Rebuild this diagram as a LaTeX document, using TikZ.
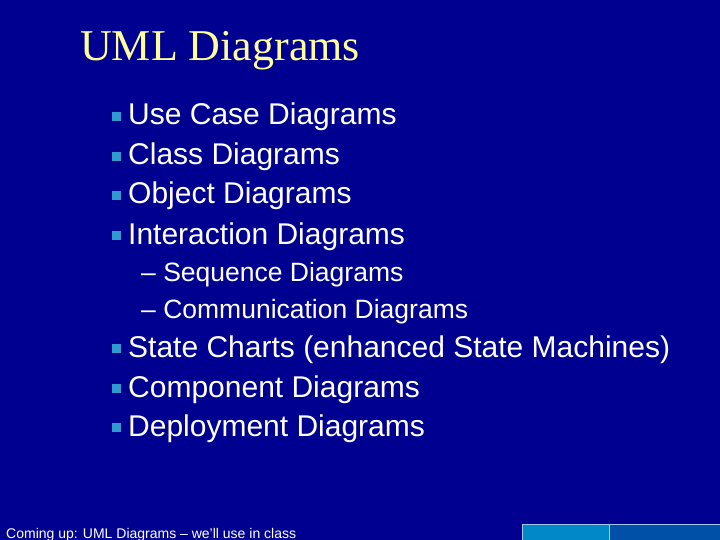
\documentclass[tikz,border=0pt]{standalone}
\usepackage{fontspec}
\setmainfont{Liberation Serif}
\setsansfont{Liberation Sans}
\begin{document}
\begin{tikzpicture}[x=1pt,y=-1pt,
 item/.style={anchor=base west,inner sep=0,text=white,font=\sffamily\fontsize{30}{30}\selectfont},
 sub/.style={anchor=base west,inner sep=0,text=white,font=\sffamily\fontsize{26.5}{26.5}\selectfont},
 bul/.style={fill=bulc,minimum size=9.5pt,inner sep=0}]
\definecolor{bg}{HTML}{000090}
\definecolor{bulc}{HTML}{2E9AD0}
\definecolor{ttl}{HTML}{FFFF99}
\definecolor{boxa}{HTML}{0088C8}
\definecolor{boxb}{HTML}{0050A8}
\definecolor{boxl}{HTML}{A0C8F0}
\fill[bg] (0,0) rectangle (720,540);
\useasboundingbox (0,0) rectangle (720,540);
\node[anchor=base west,inner sep=0,text=ttl,font=\fontsize{44}{44}\selectfont] (t) at (80,61) {UML Diagrams};
\foreach \n/\y/\s in {a/125/Use Case Diagrams,b/165/Class Diagrams,c/204/Object Diagrams,d/244/Interaction Diagrams,e/357/State Charts (enhanced State Machines),f/397/Component Diagrams,g/436/Deployment Diagrams}{
 \node[item] (\n) at (128,\y) {\s};
 \node[bul] (b\n) at (116.5,\y-8.5) {};
}
\node[sub] (s1) at (141,281) {– Sequence Diagrams};
\node[sub] (s2) at (141,318) {– Communication Diagrams};
\node[anchor=base west,inner sep=0,text=white,font=\sffamily\fontsize{14}{14}\selectfont] (f) at (6,538) {Coming up: UML Diagrams – we'll use in class};
\draw[boxl,fill=boxa] (522,524.5) rectangle (609.5,541);
\draw[boxl,fill=boxb] (609.5,524.5) rectangle (721,541);
\end{tikzpicture}
\end{document}
